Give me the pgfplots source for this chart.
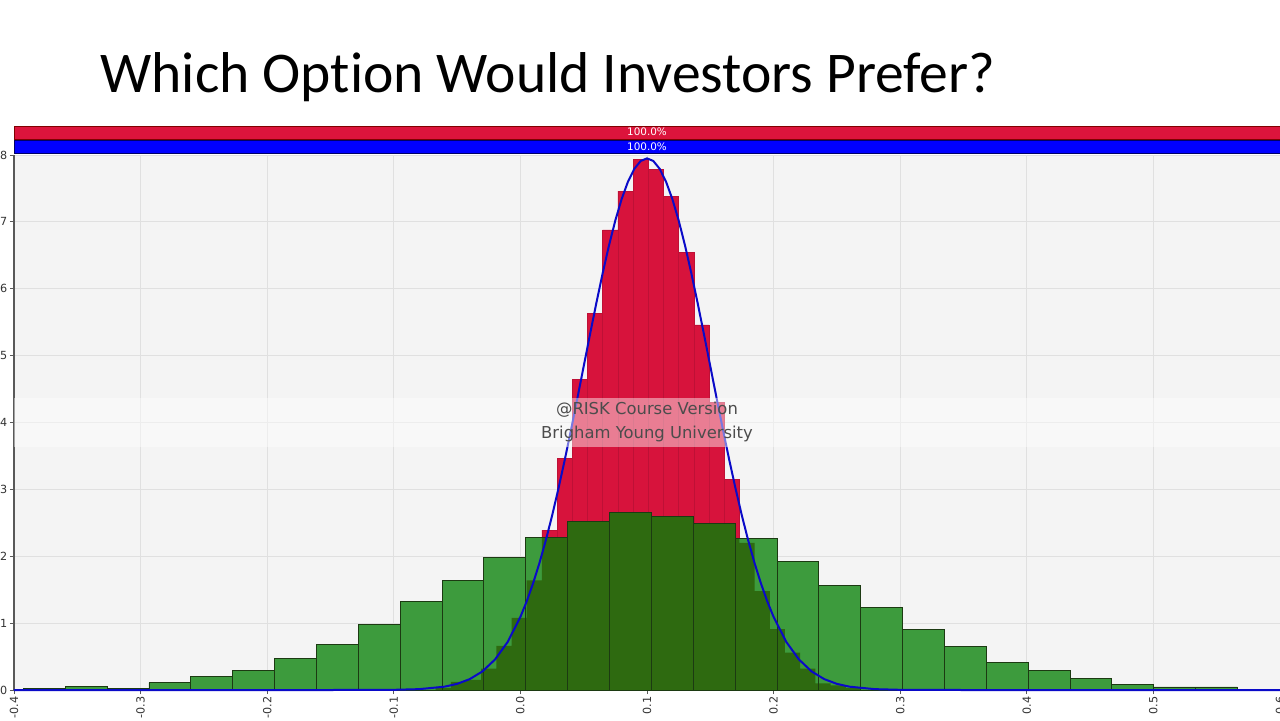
\documentclass[border=0pt]{standalone}
\usepackage{pgfplots}
\usepackage{pgfplotstable}
\pgfplotsset{compat=1.18}
\usepackage{fontspec}
\setmainfont{DejaVu Sans}
\newfontfamily\titlefont[Ligatures={NoCommon}]{Carlito}
\definecolor{rbar}{HTML}{D7133C}
\definecolor{rbarline}{HTML}{BE1036}
\definecolor{gbar}{HTML}{3D9B3D}
\definecolor{gdark}{HTML}{2E6A10}
\definecolor{gline}{HTML}{1C3A12}
\definecolor{bgc}{HTML}{F4F4F4}
\definecolor{gridc}{HTML}{E0E0E0}
\definecolor{curve}{HTML}{0A0AC8}
\definecolor{topred}{HTML}{DC143C}
\definecolor{topblue}{HTML}{0000FF}

% red histogram: left edge, density (last row closes the interval)
\pgfplotstableread{
x y
-0.067 0.03
-0.055 0.12
-0.043 0.15
-0.031 0.32
-0.019 0.66
-0.007 1.08
0.005 1.64
0.017 2.39
0.029 3.46
0.041 4.64
0.053 5.63
0.065 6.88
0.077 7.46
0.089 7.94
0.101 7.79
0.113 7.38
0.125 6.54
0.137 5.46
0.149 4.30
0.161 3.15
0.173 2.20
0.185 1.48
0.197 0.91
0.209 0.56
0.221 0.32
0.233 0.10
0.245 0.07
0.257 0.03
0.269 0
}\redtab

% green histogram: left edge, density
\pgfplotstableread{
x y
-0.3926 0.03
-0.3595 0.05
-0.3264 0.03
-0.2934 0.11
-0.2603 0.20
-0.2272 0.29
-0.1942 0.47
-0.1611 0.68
-0.1280 0.98
-0.0950 1.33
-0.0619 1.64
-0.0288 1.98
0.0043 2.28
0.0373 2.52
0.0704 2.65
0.1035 2.59
0.1365 2.49
0.1696 2.26
0.2027 1.92
0.2357 1.56
0.2688 1.24
0.3019 0.90
0.3349 0.65
0.3680 0.41
0.4011 0.29
0.4341 0.17
0.4672 0.08
0.5003 0.045
0.5334 0.045
0.5664 0
}\greentab

% overlap of both histograms
\pgfplotstableread{
x y
-0.067 0.03
-0.055 0.12
-0.043 0.15
-0.031 0.32
-0.019 0.66
-0.007 1.08
0.005 1.64
0.017 2.28
0.0373 2.52
0.0704 2.65
0.1035 2.59
0.1365 2.49
0.1696 2.26
0.173 2.20
0.185 1.48
0.197 0.91
0.209 0.56
0.221 0.32
0.233 0.10
0.245 0.07
0.257 0.03
0.269 0
}\overlaptab

% fitted normal curve
\pgfplotstableread{
x y
-0.40 0
-0.15 0
-0.10 0.0028
-0.08 0.0128
-0.06 0.0496
-0.05 0.0916
-0.04 0.163
-0.03 0.278
-0.02 0.457
-0.01 0.720
0.000 1.093
0.005 1.326
0.010 1.594
0.015 1.896
0.020 2.233
0.025 2.604
0.030 3.008
0.035 3.438
0.040 3.892
0.045 4.362
0.050 4.841
0.055 5.319
0.060 5.787
0.065 6.234
0.070 6.650
0.075 7.023
0.080 7.343
0.085 7.603
0.090 7.794
0.095 7.911
0.100 7.950
0.105 7.911
0.110 7.794
0.115 7.603
0.120 7.343
0.125 7.023
0.130 6.650
0.135 6.234
0.140 5.787
0.145 5.319
0.150 4.841
0.155 4.362
0.160 3.892
0.165 3.438
0.170 3.008
0.175 2.604
0.180 2.233
0.185 1.896
0.190 1.594
0.195 1.326
0.200 1.093
0.210 0.720
0.220 0.457
0.230 0.278
0.240 0.163
0.250 0.0916
0.260 0.0496
0.280 0.0128
0.300 0.0028
0.350 0
0.600 0
}\curvetab

\begin{document}
\begin{tikzpicture}
\fill[white] (0,0) rectangle (640pt,360pt);
\begin{scope}[x=0.5pt,y=0.5pt]
% title
\node[anchor=base west,inner sep=0pt,font=\titlefont\fontsize{28.8}{31}\selectfont] at (100,628) {Which Option Would Investors Prefer?};
\end{scope}
\begin{axis}[
  at={(7pt,15pt)}, anchor=south west,
  scale only axis,
  width=633pt, height=267.5pt,
  xmin=-0.4, xmax=0.6, ymin=0, ymax=8,
  xtick={-0.4,-0.3,...,0.6},
  xticklabels={-0.4,-0.3,-0.2,-0.1,0.0,0.1,0.2,0.3,0.4,0.5,0.6},
  ytick={0,1,...,8},
  /pgf/number format/assume math mode=true,
  axis background/.style={fill=bgc},
  grid=major,
  major grid style={gridc, line width=0.4pt},
  axis lines=left,
  axis line style={-},
  x axis line style={draw=black!80!blue, line width=0.8pt},
  y axis line style={draw=black!65, line width=0.6pt},
  tick style={black!65, line width=0.4pt},
  major tick length=2pt,
  tick align=outside,
  xticklabel style={rotate=90, anchor=east, font=\fontsize{5.6}{6}\selectfont, text=black!80, inner sep=1pt},
  yticklabel style={font=\fontsize{5.6}{6}\selectfont, text=black!80, inner sep=1.2pt},
  clip=false,
]
\addplot[ybar interval, fill=rbar, draw=rbarline, line width=0.25pt] table[x=x,y=y] {\redtab};
\addplot[ybar interval, fill=gbar, draw=none] table[x=x,y=y] {\greentab};
\addplot[const plot, fill=gdark, draw=none, mark=none] table[x=x,y=y] {\overlaptab} \closedcycle;
\addplot[ybar interval, fill=none, draw=gline, line width=0.45pt] table[x=x,y=y] {\greentab};
\addplot[curve, line width=1pt, mark=none] table[x=x,y=y] {\curvetab};
\end{axis}
\begin{scope}[x=0.5pt,y=0.5pt]
% watermark band
\fill[white, opacity=0.45] (14,273) rectangle (1280,322);
\node[text=black!70, font=\fontsize{8.2}{9}\selectfont] at (647,310) {@RISK Course Version};
\node[text=black!70, font=\fontsize{8.2}{9}\selectfont] at (647,286) {Brigham Young University};
% top summary bars
\fill[topred, draw=black!50!red, line width=0.3pt] (14,581) rectangle (1280,594);
\fill[topblue, draw=black!60!blue, line width=0.3pt] (14,566.5) rectangle (1280,580);
\node[text=white, font=\fontsize{5.2}{6}\selectfont] at (647,588) {100.0\%};
\node[text=white, font=\fontsize{5.2}{6}\selectfont] at (647,573) {100.0\%};
\end{scope}
\pgfresetboundingbox
\useasboundingbox (0,0) rectangle (640pt,360pt);
\end{tikzpicture}
\end{document}
